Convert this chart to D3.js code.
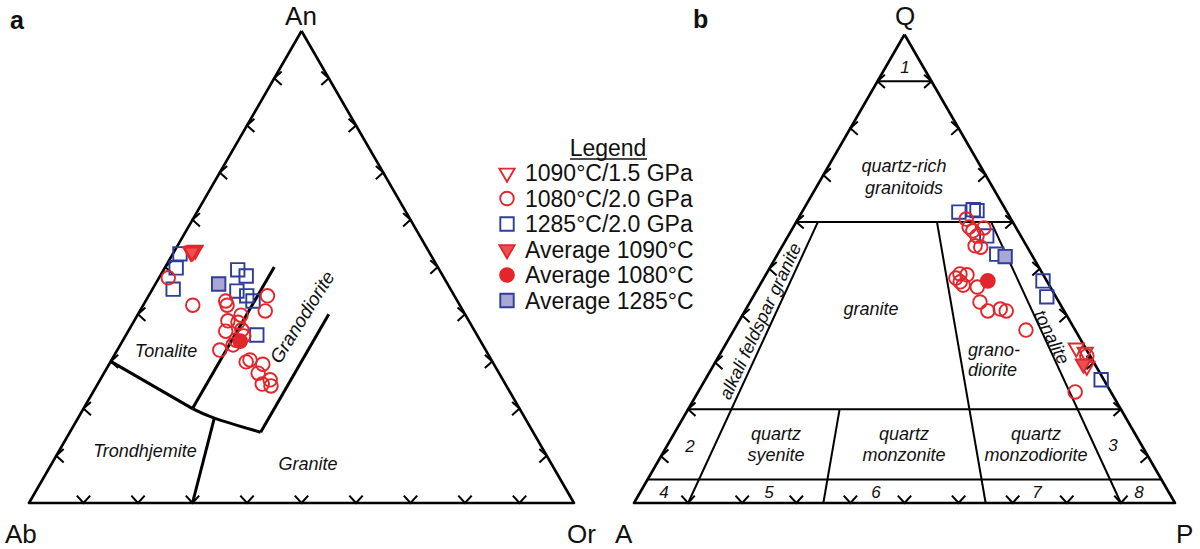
<!DOCTYPE html>
<html>
<head>
<meta charset="utf-8">
<script src="https://cdn.jsdelivr.net/npm/d3@7"></script>
<style>
body{margin:0;background:#fff;}
svg{font-family:Arial,"Liberation Sans",sans-serif;}
</style>
</head>
<body>
<svg id="chart" width="1200" height="549"></svg>
<script>
// tick positions along every side (percent)
var tickValues = [10,20,30,40,50,60,70,80,90];

// ---- panel a : [An, Ab, Or] ----
var aOpen1090 = [[53.6,42.7,3.7],[53.4,43.2,3.4],[53.2,43.7,3.1]];
var aOpen1080 = [
	[47.7,50.6,1.7],[41.9,49.0,9.1],[42.8,42.5,14.7],[41.9,42.7,15.4],[43.9,34.3,21.8],
	[40.7,36.3,23.0],[39.8,41.2,19.0],[38.6,44.2,17.2],[38.3,42.5,19.2],[36.4,45.7,17.9],
	[36.7,42.6,20.7],[35.4,42.9,21.7],[32.4,48.8,18.8],[33.5,45.8,20.7],[29.9,45.2,24.9],
	[30.3,44.3,25.4],[29.4,42.4,28.2],[27.5,44.2,28.3],[26.1,42.7,31.2],[25.2,44.6,30.2],
	[24.8,43.2,32.0],[34.5,44.8,20.7]
];
var aOpen1285 = [
	[52.8,45.9,1.3],[49.8,48.1,2.1],[45.3,50.9,3.8],[49.4,37.0,13.6],[48.1,36.1,15.8],
	[44.9,39.4,15.7],[43.9,38.1,18.0],[42.8,37.5,19.7],[35.6,40.4,24.0]
];
var aAvg1090 = [[53.2,43.5,3.3]];
var aAvg1080 = [[34.3,44.1,21.6]];
var aAvg1285 = [[46.4,42.0,11.6]];

// field boundaries of panel a
var tonTrondh = [[30,70,0],[20,60,20]];
var lowerCurve = [[20,60,20],[18,57,25],[15,50,35]];
var tonGranod = [[20,60,20],[50,30,20]];
var granodGranite = [[15,50,35],[40,25,35]];
var trondhGranite = [[18,57,25],[0,70,30]];

// ---- panel b : [Q, A, P] ----
var bOpen1090 = [[33.1,1.7,65.2],[32.2,0.5,67.3],[29.2,1.7,69.1]];
var bOpen1080 = [
	[60.6,8.3,31.1],[58.9,8.6,32.5],[58.1,8.3,33.6],[57.0,8.1,34.9],[58.7,6.0,35.3],
	[54.6,8.6,36.8],[54.9,9.5,35.6],[48.9,15.3,35.8],[48.0,16.5,35.5],[46.5,15.9,37.6],
	[48.7,14.1,37.2],[46.1,13.5,40.4],[42.9,14.6,42.5],[41.0,14.1,44.9],[41.4,11.6,47.0],
	[41.0,10.7,48.3],[36.9,9.1,54.0],[23.7,6.6,69.7],[31.4,0.6,68.0],[47.2,16.1,36.7]
];
var bOpen1285 = [
	[62.1,8.9,29.0],[62.6,6.0,31.4],[62.4,5.4,32.2],[57.0,6.3,36.7],[53.1,6.4,40.5],
	[47.4,0.7,51.9],[44.0,1.7,54.3],[26.3,0.5,73.2]
];
var bAvg1090 = [[29.7,2.1,68.2]];
var bAvg1080 = [[47.4,10.9,41.7]];
var bAvg1285 = [[52.6,5.1,42.3]];

// QAPF field lines
var qLevels = [90,60,20,5];
var pRatios = [10,35,65,90];
var ratioTops = [60,20,60,60];

var legendLabels = ['1090\u00B0C/1.5 GPa','1080\u00B0C/2.0 GPa','1285\u00B0C/2.0 GPa',
	'Average 1090\u00B0C','Average 1080\u00B0C','Average 1285\u00B0C'];

var red = '#e3262b', blue = '#2e3c9c';

var svg = d3.select('#chart');

function makeTernary(left, right, base){
	var side = right - left;
	var x = d3.scaleLinear().domain([0,100]).range([left,right]);
	var y = d3.scaleLinear().domain([0,100]).range([base, base - side*Math.sqrt(3)/2]);
	// d = [top, left, right]
	return function(d){ return [x(d[2] + d[0]/2), y(d[0])]; };
}
var projA = makeTernary(29,574,503);
var projB = makeTernary(634,1175,503);

function drawLine(g, proj, pts, w, curve){
	var line = d3.line().x(function(d){ return proj(d)[0]; }).y(function(d){ return proj(d)[1]; });
	if(curve) line.curve(curve);
	g.append('path').attr('d', line(pts)).attr('fill','none')
		.attr('stroke','#000').attr('stroke-width',w).attr('stroke-linejoin','round');
}

function drawFrame(g, proj, w){
	drawLine(g, proj, [[100,0,0],[0,100,0],[0,0,100],[100,0,0]], w);
	var ticks = [];
	tickValues.forEach(function(v){
		ticks.push({p:[v,100-v,0], dir:[-1,0]});
		ticks.push({p:[v,0,100-v], dir:[1,0]});
		ticks.push({p:[0,100-v,v], dir:[0,1]});
	});
	var L = 10, ang = 42*Math.PI/180;
	g.selectAll(null).data(ticks).enter().append('path')
		.attr('d', function(t){
			var p = proj(t.p), dx = t.dir[0], dy = t.dir[1];
			var c = Math.cos(ang), s = Math.sin(ang);
			var a1 = [p[0] - L*(dx*c - dy*s), p[1] - L*(dx*s + dy*c)];
			var a2 = [p[0] - L*(dx*c + dy*s), p[1] - L*(-dx*s + dy*c)];
			return 'M' + a1 + 'L' + p + 'L' + a2;
		})
		.attr('fill','none').attr('stroke','#000').attr('stroke-width',2);
}

function drawSymbols(g, proj, data, type, size, fill, stroke, flip){
	g.selectAll(null).data(data).enter().append('path')
		.attr('transform', function(d){
			var p = proj(d);
			return 'translate(' + p[0] + ',' + p[1] + ')' + (flip ? ' rotate(180)' : '');
		})
		.attr('d', d3.symbol().type(type).size(size))
		.attr('fill', fill).attr('stroke', stroke).attr('stroke-width',1.9);
}

function drawData(g, proj, o1090, o1080, o1285, a1090, a1080, a1285){
	drawSymbols(g, proj, o1285, d3.symbolSquare, 180, 'none', blue);
	drawSymbols(g, proj, o1080, d3.symbolCircle, 145, 'none', red);
	drawSymbols(g, proj, o1090, d3.symbolTriangle, 100, 'none', red, true);
	drawSymbols(g, proj, a1285, d3.symbolSquare, 180, '#a9a7d3', blue);
	drawSymbols(g, proj, a1090, d3.symbolTriangle, 100, '#ec4f52', red, true);
	drawSymbols(g, proj, a1080, d3.symbolCircle, 150, red, red);
}

function label(x, y, txt, size, opts){
	opts = opts || {};
	var t = svg.append('text').attr('x',x).attr('y',y).text(txt)
		.attr('font-size',size).attr('fill','#111')
		.attr('text-anchor', opts.anchor || 'middle');
	if(opts.italic) t.attr('font-style','italic');
	if(opts.bold) t.attr('font-weight','bold');
	if(opts.rotate) t.attr('transform','rotate(' + opts.rotate + ',' + x + ',' + y + ')');
	if(opts.dy) t.attr('dy', opts.dy);
	return t;
}

// ---------- panel a ----------
var ga = svg.append('g');
drawFrame(ga, projA, 2.6);
drawLine(ga, projA, tonTrondh, 3);
drawLine(ga, projA, lowerCurve, 3, d3.curveNatural);
drawLine(ga, projA, tonGranod, 3);
drawLine(ga, projA, granodGranite, 3);
drawLine(ga, projA, trondhGranite, 3);
drawData(ga, projA, aOpen1090, aOpen1080, aOpen1285, aAvg1090, aAvg1080, aAvg1285);

label(10, 29, 'a', 25, {anchor:'start', bold:true});
label(301, 25, 'An', 26);
label(5, 543, 'Ab', 26, {anchor:'start'});
label(567, 543, 'Or', 26, {anchor:'start'});
label(166, 357, 'Tonalite', 18, {italic:true});
label(302, 317, 'Granodiorite', 19, {italic:true, rotate:-58, dy:'0.35em'});
label(145, 457, 'Trondhjemite', 18, {italic:true});
label(308, 470, 'Granite', 18, {italic:true});

// ---------- panel b ----------
var gb = svg.append('g');
drawFrame(gb, projB, 2.6);
qLevels.forEach(function(q){
	drawLine(gb, projB, [[q,100-q,0],[q,0,100-q]], 2);
});
pRatios.forEach(function(r, i){
	var top = ratioTops[i];
	drawLine(gb, projB, [[top,(100-top)*(100-r)/100,(100-top)*r/100],[0,100-r,r]], 2);
});
drawData(gb, projB, bOpen1090, bOpen1080, bOpen1285, bAvg1090, bAvg1080, bAvg1285);

label(693, 28, 'b', 25, {anchor:'start', bold:true});
label(905, 25, 'Q', 26);
label(615, 543, 'A', 26, {anchor:'start'});
label(1176, 543, 'P', 26, {anchor:'start'});
label(905, 73, '1', 17, {italic:true});
label(904, 172, 'quartz-rich', 18, {italic:true});
label(904, 194, 'granitoids', 18, {italic:true});
label(760, 321, 'alkali feldspar granite', 18, {italic:true, rotate:-65, dy:'0.35em'});
label(871, 315, 'granite', 18, {italic:true});
label(968, 356, 'grano-', 18, {italic:true, anchor:'start'});
label(968, 376, 'diorite', 18, {italic:true, anchor:'start'});
label(1052, 337, 'tonalite', 18, {italic:true, rotate:64, dy:'0.35em'});
label(690, 452, '2', 17, {italic:true});
label(776, 440, 'quartz', 18, {italic:true});
label(776, 461, 'syenite', 18, {italic:true});
label(904, 440, 'quartz', 18, {italic:true});
label(904, 461, 'monzonite', 18, {italic:true});
label(1036, 440, 'quartz', 18, {italic:true});
label(1036, 461, 'monzodiorite', 18, {italic:true});
label(1113, 451, '3', 17, {italic:true});
label(664, 498, '4', 17, {italic:true});
label(769, 498, '5', 17, {italic:true});
label(876, 498, '6', 17, {italic:true});
label(1037, 498, '7', 17, {italic:true});
label(1139, 498, '8', 17, {italic:true});

// ---------- legend ----------
var lg = svg.append('g');
label(608, 156, 'Legend', 23);
lg.append('line').attr('x1',570).attr('x2',647).attr('y1',159).attr('y2',159)
	.attr('stroke','#111').attr('stroke-width',1.6);
var ly = d3.scaleLinear().domain([0,5]).range([173,300.5]);
var legendSyms = [
	{type:d3.symbolTriangle, size:100, fill:'none', stroke:red, flip:true},
	{type:d3.symbolCircle, size:145, fill:'none', stroke:red},
	{type:d3.symbolSquare, size:180, fill:'none', stroke:blue},
	{type:d3.symbolTriangle, size:100, fill:'#ec4f52', stroke:red, flip:true},
	{type:d3.symbolCircle, size:150, fill:red, stroke:red},
	{type:d3.symbolSquare, size:180, fill:'#a9a7d3', stroke:blue}
];
legendLabels.forEach(function(txt, i){
	var s = legendSyms[i];
	lg.append('path')
		.attr('transform','translate(507,' + ly(i) + ')' + (s.flip ? ' rotate(180)' : ''))
		.attr('d', d3.symbol().type(s.type).size(s.size))
		.attr('fill', s.fill).attr('stroke', s.stroke).attr('stroke-width',1.9);
	label(525, ly(i) + 8, txt, 23, {anchor:'start'});
});
</script>
</body>
</html>
